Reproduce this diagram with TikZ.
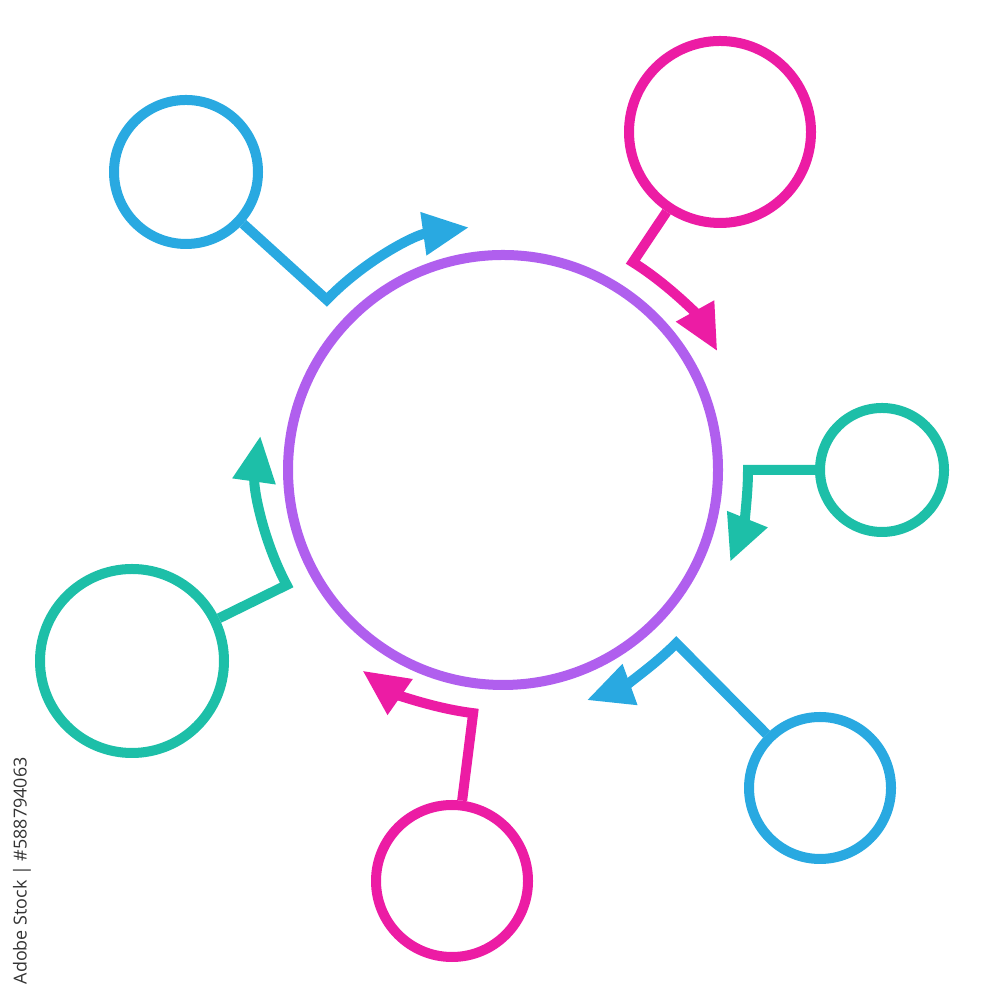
\documentclass[tikz,border=0pt]{standalone}
\usepackage{fontspec}
\newfontfamily\stockfont{Open Sans}
\usepackage{xcolor}
\usetikzlibrary{arrows.meta,calc}

\definecolor{hubpurple}{HTML}{B05FEE}
\definecolor{skyblue}{HTML}{29A9E1}
\definecolor{hotpink}{HTML}{EC1CA4}
\definecolor{seateal}{HTML}{1DBFA8}
\definecolor{stockgray}{HTML}{333333}

\begin{document}
\begin{tikzpicture}[
    hub/.style={circle, draw=hubpurple, line width=0.10cm, minimum size=4.30cm, inner sep=0pt},
    satellite/.style={circle, draw=#1, line width=0.10cm, inner sep=0pt},
    link/.style={draw=#1, line width=0.10cm, line join=miter, -{Triangle[length=0.46cm, width=0.41cm]}}
]
\useasboundingbox (0,0) rectangle (9.85,10);

% Hub
\node[hub] (hub) at (5.03,5.30) {};

% Satellites
\node[satellite=skyblue, minimum size=1.44cm] (topleft) at (1.86,8.28) {};
\node[satellite=hotpink, minimum size=1.82cm] (topright) at (7.20,8.68) {};
\node[satellite=seateal, minimum size=1.24cm] (right) at (8.82,5.30) {};
\node[satellite=skyblue, minimum size=1.42cm] (bottomright) at (8.20,2.12) {};
\node[satellite=hotpink, minimum size=1.52cm] (bottom) at (4.52,1.19) {};
\node[satellite=seateal, minimum size=1.84cm] (left) at (1.32,3.39) {};

% Corners on the ring round the hub
\coordinate (topleftc) at ($(hub)+(136:2.45)$);
\coordinate (toprightc) at ($(hub)+(58:2.45)$);
\coordinate (rightc) at ($(hub)+(0:2.45)$);
\coordinate (bottomrightc) at ($(hub)+(-45:2.45)$);
\coordinate (bottomc) at ($(hub)+(-97:2.45)$);
\coordinate (leftc) at ($(hub)+(208:2.45)$);

% Links - spoke, then arc along the hub
\draw[link=skyblue] (topleft) -- (topleftc) arc[start angle=136, end angle=98, radius=2.45];
\draw[link=hotpink] (topright) -- (toprightc) arc[start angle=58, end angle=29, radius=2.45];
\draw[link=seateal] (right) -- (rightc) arc[start angle=0, end angle=-22, radius=2.45];
\draw[link=skyblue] (bottomright) -- (bottomrightc) arc[start angle=-45, end angle=-70, radius=2.45];
\draw[link=hotpink] (bottom) -- (bottomc) arc[start angle=-97, end angle=-125, radius=2.45];
\draw[link=seateal] (left) -- (leftc) arc[start angle=208, end angle=172, radius=2.45];

% Stock id
\node[rotate=90, anchor=west, inner sep=0pt, text=stockgray, font=\stockfont\fontsize{5.1}{6}\selectfont] (stockid) at (0.22,0.15) {Adobe Stock | \#588794063};

\end{tikzpicture}
\end{document}
